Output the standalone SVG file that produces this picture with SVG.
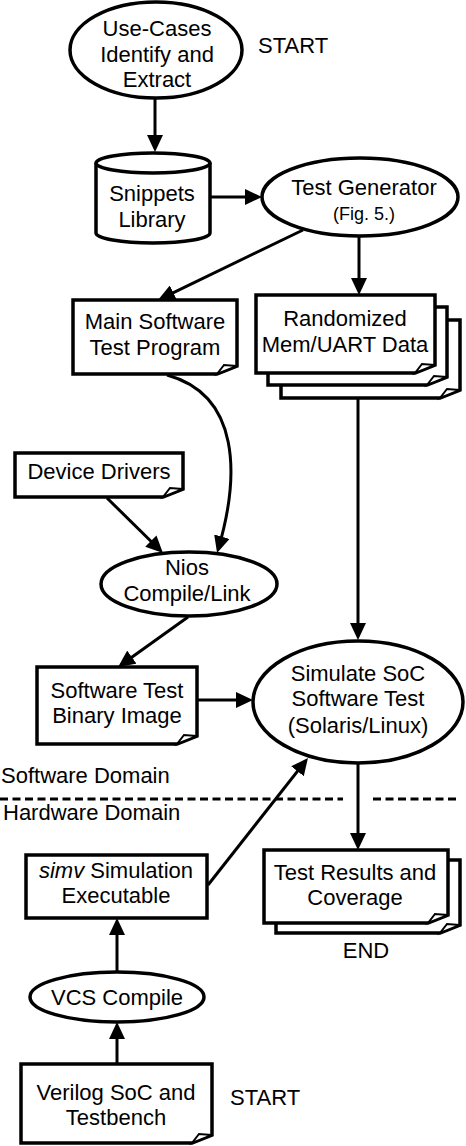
<svg xmlns="http://www.w3.org/2000/svg" width="466" height="1146" viewBox="0 0 466 1146">
<style>
.n{fill:#fff;stroke:#000;stroke-width:3.5;stroke-linejoin:miter}
.f{fill:#fff;stroke:#000;stroke-width:2}
.c{fill:none;stroke:#000;stroke-width:3}
.d{fill:none;stroke:#000;stroke-width:3;stroke-dasharray:8 4.5}
text{font-family:"Liberation Sans",Arial,sans-serif;font-size:22px;text-anchor:middle;fill:#000}
.l{text-anchor:start}
.s{font-size:18px}
</style>
<defs>
<marker id="ah" markerUnits="userSpaceOnUse" markerWidth="18" markerHeight="16" refX="13" refY="8" orient="auto">
<path d="M0,0 L17,8 L0,16 Z" fill="#000"/>
</marker>
</defs>
<rect width="466" height="1146" fill="#fff"/>

<g id="connectors">
<line class="c" x1="155" y1="99" x2="155" y2="148" marker-end="url(#ah)"/>
<line class="c" x1="210" y1="197" x2="258" y2="197" marker-end="url(#ah)"/>
<line class="c" x1="303" y1="230" x2="161.6" y2="298.3" marker-end="url(#ah)"/>
<line class="c" x1="359" y1="237" x2="359" y2="291" marker-end="url(#ah)"/>
<path class="c" d="M167,375 C240,395 240,475 218.2,549.2" marker-end="url(#ah)"/>
<line class="c" x1="107" y1="498" x2="160.1" y2="550.2" marker-end="url(#ah)"/>
<line class="c" x1="358" y1="398" x2="358" y2="636" marker-end="url(#ah)"/>
<line class="c" x1="188" y1="617" x2="121.3" y2="664.7" marker-end="url(#ah)"/>
<line class="c" x1="197" y1="700" x2="249" y2="700" marker-end="url(#ah)"/>
<line class="c" x1="358" y1="763" x2="358" y2="846" marker-end="url(#ah)"/>
<line class="c" x1="208" y1="885" x2="305.5" y2="761.1" marker-end="url(#ah)"/>
<line class="c" x1="117" y1="971" x2="117" y2="922" marker-end="url(#ah)"/>
<line class="c" x1="117" y1="1064" x2="117" y2="1026" marker-end="url(#ah)"/>
</g>

<g id="domain-divider">
<line class="d" x1="0" y1="799" x2="343" y2="799"/>
<line class="d" x1="373" y1="799" x2="460" y2="799"/>
<text class="l" x="1" y="783">Software Domain</text>
<text class="l" x="3" y="820">Hardware Domain</text>
</g>

<g id="use-cases">
<ellipse class="n" cx="156" cy="50" rx="86" ry="48"/>
<text x="157" y="36">Use-Cases</text>
<text x="157" y="62">Identify and</text>
<text x="157" y="87">Extract</text>
</g>
<g id="start-top"><text class="l" x="258" y="53">START</text></g>

<g id="snippets">
<path class="n" d="M96,163 V233 A57,10 0 0 0 210,233 V163"/>
<ellipse class="n" cx="153" cy="163" rx="57" ry="10"/>
<text x="152" y="201">Snippets</text>
<text x="152" y="227">Library</text>
</g>

<g id="test-generator">
<ellipse class="n" cx="360" cy="197" rx="98" ry="39"/>
<text x="364" y="195">Test Generator</text>
<text class="s" x="364" y="220">(Fig. 5.)</text>
</g>

<g id="main-software">
<path class="n" d="M73,300 H237 V366 L217,374 H73 Z"/>
<path class="f" d="M217,374 L224,365 L237,366 Z"/>
<text x="155" y="329">Main Software</text>
<text x="155" y="355">Test Program</text>
</g>

<g id="randomized">
<path class="n" d="M281,320 H460 V390 L440,398 H281 Z"/>
<path class="f" d="M440,398 L447,389 L460,390 Z"/>
<path class="n" d="M268,307 H447 V377 L427,385 H268 Z"/>
<path class="f" d="M427,385 L434,376 L447,377 Z"/>
<path class="n" d="M256,295 H435 V365 L415,373 H256 Z"/>
<path class="f" d="M415,373 L422,364 L435,365 Z"/>
<text x="345" y="326">Randomized</text>
<text x="345" y="352">Mem/UART Data</text>
</g>

<g id="device-drivers">
<path class="n" d="M15,453 H183 V489 L163,497 H15 Z"/>
<path class="f" d="M163,497 L170,488 L183,489 Z"/>
<text x="99" y="479">Device Drivers</text>
</g>

<g id="nios">
<ellipse class="n" cx="189" cy="584" rx="88" ry="32"/>
<text x="187" y="575">Nios</text>
<text x="187" y="601">Compile/Link</text>
</g>

<g id="binary-image">
<path class="n" d="M37,667 H197 V736 L177,744 H37 Z"/>
<path class="f" d="M177,744 L184,735 L197,736 Z"/>
<text x="117" y="698">Software Test</text>
<text x="117" y="723">Binary Image</text>
</g>

<g id="simulate">
<ellipse class="n" cx="358" cy="702" rx="105" ry="61"/>
<text x="358" y="681">Simulate SoC</text>
<text x="358" y="706">Software Test</text>
<text x="358" y="733">(Solaris/Linux)</text>
</g>

<g id="simv">
<rect class="n" x="26" y="855" width="181" height="63"/>
<text x="116" y="878"><tspan font-style="italic">simv</tspan> Simulation</text>
<text x="116" y="903">Executable</text>
</g>

<g id="test-results">
<path class="n" d="M276,860 H460 V925 L440,933 H276 Z"/>
<path class="f" d="M440,933 L447,924 L460,925 Z"/>
<path class="n" d="M264,850 H448 V915 L428,923 H264 Z"/>
<path class="f" d="M428,923 L435,914 L448,915 Z"/>
<text x="355" y="880">Test Results and</text>
<text x="355" y="905">Coverage</text>
</g>
<g id="end-label"><text x="366" y="958">END</text></g>

<g id="vcs-compile">
<ellipse class="n" cx="117" cy="997" rx="87" ry="25"/>
<text x="117" y="1005">VCS Compile</text>
</g>

<g id="verilog">
<path class="n" d="M21,1064 H212 V1135 L192,1143 H21 Z"/>
<path class="f" d="M192,1143 L199,1134 L212,1135 Z"/>
<text x="116" y="1100">Verilog SoC and</text>
<text x="116" y="1125">Testbench</text>
</g>
<g id="start-bottom"><text class="l" x="230" y="1105">START</text></g>
</svg>
